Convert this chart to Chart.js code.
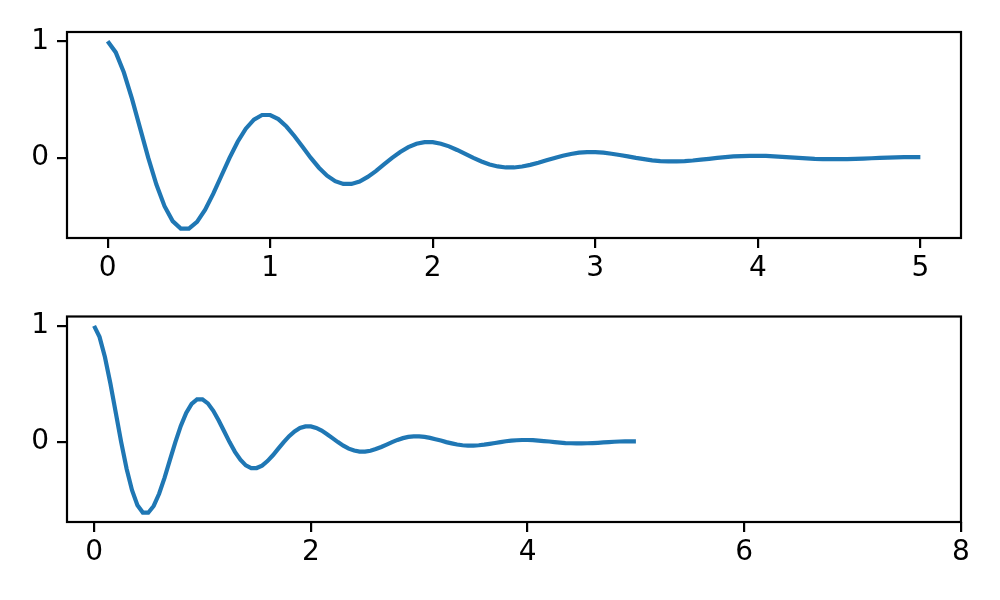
<!DOCTYPE html>
<html>
<head>
<meta charset="utf-8">
<script src="https://cdn.jsdelivr.net/npm/chart.js@4.4.0/dist/chart.umd.min.js"></script>
<style>
  body { margin: 0; background: #fff; width: 1000px; height: 600px; overflow: hidden; }
  .box { position: absolute; left: 0; width: 1000px; }
</style>
</head>
<body>
<div class="box" style="top:0;height:300px"><canvas id="topChart"></canvas></div>
<div class="box" style="top:280px;height:320px"><canvas id="bottomChart"></canvas></div>
<script>
// time axis values
const times = [
  0.00, 0.05, 0.10, 0.15, 0.20, 0.25, 0.30, 0.35, 0.40, 0.45,
  0.50, 0.55, 0.60, 0.65, 0.70, 0.75, 0.80, 0.85, 0.90, 0.95,
  1.00, 1.05, 1.10, 1.15, 1.20, 1.25, 1.30, 1.35, 1.40, 1.45,
  1.50, 1.55, 1.60, 1.65, 1.70, 1.75, 1.80, 1.85, 1.90, 1.95,
  2.00, 2.05, 2.10, 2.15, 2.20, 2.25, 2.30, 2.35, 2.40, 2.45,
  2.50, 2.55, 2.60, 2.65, 2.70, 2.75, 2.80, 2.85, 2.90, 2.95,
  3.00, 3.05, 3.10, 3.15, 3.20, 3.25, 3.30, 3.35, 3.40, 3.45,
  3.50, 3.55, 3.60, 3.65, 3.70, 3.75, 3.80, 3.85, 3.90, 3.95,
  4.00, 4.05, 4.10, 4.15, 4.20, 4.25, 4.30, 4.35, 4.40, 4.45,
  4.50, 4.55, 4.60, 4.65, 4.70, 4.75, 4.80, 4.85, 4.90, 4.95,
  5.00
];

// damped signal values
const signal = [
  1.000, 0.905, 0.732, 0.506, 0.253, 0.000, -0.229, -0.414, -0.542, -0.606,
  -0.607, -0.549, -0.444, -0.307, -0.153, 0.000, 0.139, 0.251, 0.329, 0.368,
  0.368, 0.333, 0.269, 0.186, 0.093, 0.000, -0.084, -0.152, -0.200, -0.223,
  -0.223, -0.202, -0.163, -0.113, -0.056, 0.000, 0.051, 0.092, 0.121, 0.135,
  0.135, 0.122, 0.099, 0.068, 0.034, 0.000, -0.031, -0.056, -0.073, -0.082,
  -0.082, -0.074, -0.060, -0.042, -0.021, 0.000, 0.019, 0.034, 0.045, 0.050,
  0.050, 0.045, 0.036, 0.025, 0.013, 0.000, -0.011, -0.021, -0.027, -0.030,
  -0.030, -0.027, -0.022, -0.015, -0.008, 0.000, 0.007, 0.013, 0.016, 0.018,
  0.018, 0.017, 0.013, 0.009, 0.005, 0.000, -0.004, -0.008, -0.010, -0.011,
  -0.011, -0.010, -0.008, -0.006, -0.003, 0.000, 0.003, 0.005, 0.006, 0.007,
  0.007
];

const yTicks = [0, 1];
const topXTicks = [0, 1, 2, 3, 4, 5];
const bottomXTicks = [0, 2, 4, 6, 8];

const blue = '#1f77b4';
const font = { family: 'DejaVu Sans', size: 28 };

// frame around plot area like matplotlib spines
const frame = {
  id: 'frame',
  afterDatasetsDraw(chart) {
    const a = chart.chartArea, c = chart.ctx;
    c.save();
    c.strokeStyle = '#000';
    c.lineWidth = 2.2;
    c.strokeRect(a.left, a.top, a.right - a.left, a.bottom - a.top);
    c.restore();
  }
};

function makeChart(id, h, xMin, xMax, xTicks, padTop, xHeight) {
  const cv = document.getElementById(id);
  cv.width = 1000;
  cv.height = h;
  const points = times.map((t, i) => ({ x: t, y: signal[i] }));
  return new Chart(cv, {
    type: 'line',
    data: {
      datasets: [{
        data: points,
        borderColor: blue,
        borderWidth: 4.2,
        pointRadius: 0,
        tension: 0,
        fill: false
      }]
    },
    options: {
      responsive: false,
      animation: false,
      devicePixelRatio: 1,
      layout: { padding: { top: padTop, right: 39, left: 0, bottom: 0 } },
      plugins: { legend: { display: false }, tooltip: { enabled: false } },
      scales: {
        x: {
          type: 'linear',
          min: xMin,
          max: xMax,
          afterBuildTicks: s => { s.ticks = xTicks.map(v => ({ value: v })); },
          afterFit: s => { s.height = xHeight; },
          grid: { drawOnChartArea: false, drawTicks: true, tickLength: 10, color: '#000', lineWidth: 2.2 },
          border: { display: false },
          ticks: { color: '#000', font: font, padding: 4, maxRotation: 0 }
        },
        y: {
          min: -0.687,
          max: 1.080,
          afterBuildTicks: s => { s.ticks = yTicks.map(v => ({ value: v })); },
          afterFit: s => { s.width = 67; },
          grid: { drawOnChartArea: false, drawTicks: true, tickLength: 10, color: '#000', lineWidth: 2.2 },
          border: { display: false },
          ticks: { color: '#000', font: font, padding: 8 }
        }
      }
    },
    plugins: [frame]
  });
}

makeChart('topChart', 300, -0.25, 5.25, topXTicks, 32, 62);
makeChart('bottomChart', 320, -0.25, 8, bottomXTicks, 36.5, 78);
</script>
</body>
</html>
